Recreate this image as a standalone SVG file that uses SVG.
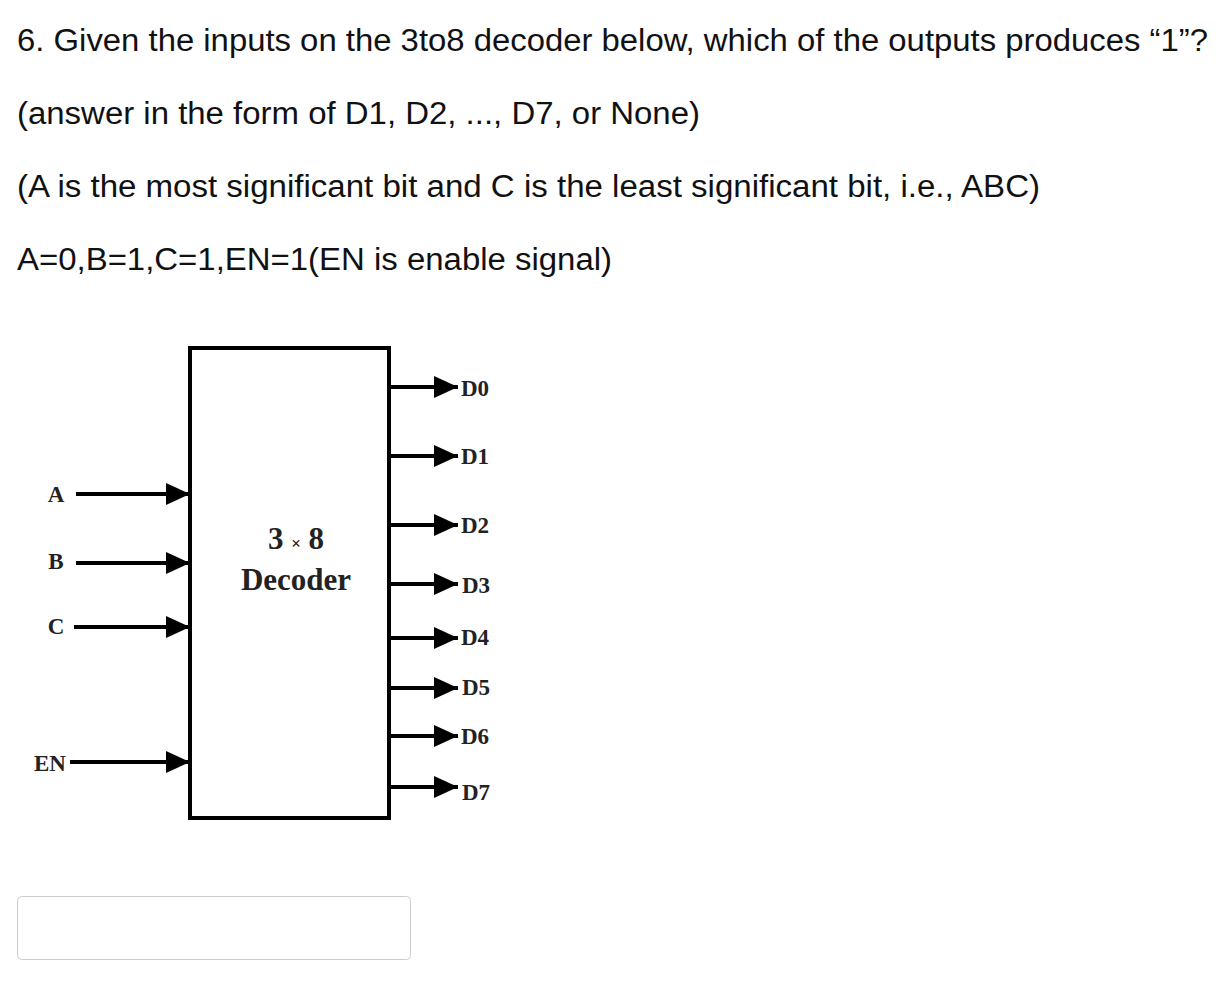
<svg xmlns="http://www.w3.org/2000/svg" width="1225" height="986" viewBox="0 0 1225 986">
<style>
.q{font-family:"Liberation Sans",Arial,sans-serif;font-size:31px;fill:#111}
.l{font-family:"Liberation Serif","Times New Roman",serif;font-weight:bold;font-size:23px;fill:#222}
.big{font-size:31px}
.w{stroke:#000;stroke-width:4;fill:none}
</style>
<defs><marker id="a" viewBox="0 0 24 22" refX="24" refY="11" markerWidth="24" markerHeight="22" markerUnits="userSpaceOnUse" orient="auto"><path d="M0,0L24,11L0,22z" fill="#000"/></marker></defs>
<rect width="1225" height="986" fill="#fff"/>
<text class="q" x="17" y="51" textLength="1191" lengthAdjust="spacingAndGlyphs">6. Given the inputs on the 3to8 decoder below, which of the outputs produces “1”?</text>
<text class="q" x="17" y="124" textLength="683" lengthAdjust="spacingAndGlyphs">(answer in the form of D1, D2, ..., D7, or None)</text>
<text class="q" x="17" y="197" textLength="1023" lengthAdjust="spacingAndGlyphs">(A is the most significant bit and C is the least significant bit, i.e., ABC)</text>
<text class="q" x="17" y="270" textLength="595" lengthAdjust="spacingAndGlyphs">A=0,B=1,C=1,EN=1(EN is enable signal)</text>
<g id="decoder"><rect x="190" y="348" width="199" height="470" class="w"/>
<text class="l big" x="296" y="549" text-anchor="middle">3 <tspan style="font-size:17px">×</tspan> 8</text>
<text class="l big" x="296" y="590" text-anchor="middle">Decoder</text></g>
<g id="labels">
<text class="l" x="56" y="502" text-anchor="middle">A</text>
<text class="l" x="56" y="569" text-anchor="middle">B</text>
<text class="l" x="56" y="634" text-anchor="middle">C</text>
<text class="l" x="50" y="771" text-anchor="middle">EN</text>
<text class="l" x="461" y="396">D0</text><text class="l" x="461" y="464">D1</text>
<text class="l" x="461" y="533">D2</text><text class="l" x="462" y="593">D3</text>
<text class="l" x="461" y="645">D4</text><text class="l" x="462" y="695">D5</text>
<text class="l" x="461" y="744">D6</text><text class="l" x="462" y="800">D7</text></g>
<g id="connectors" stroke="#000" stroke-width="4" marker-end="url(#a)">
<line x1="76" y1="494" x2="190" y2="494"/><line x1="76" y1="563" x2="190" y2="563"/>
<line x1="74" y1="627" x2="190" y2="627"/><line x1="70" y1="762" x2="190" y2="762"/>
<line x1="389" y1="387" x2="458" y2="387"/><line x1="389" y1="456" x2="458" y2="456"/>
<line x1="389" y1="525" x2="458" y2="525"/><line x1="389" y1="584" x2="458" y2="584"/>
<line x1="389" y1="638" x2="458" y2="638"/><line x1="389" y1="688" x2="458" y2="688"/>
<line x1="389" y1="736" x2="458" y2="736"/><line x1="389" y1="787" x2="458" y2="787"/></g>
<rect id="answer" x="17.5" y="896.5" width="393" height="63" rx="4" fill="#fff" stroke="#ccc"/>
</svg>
